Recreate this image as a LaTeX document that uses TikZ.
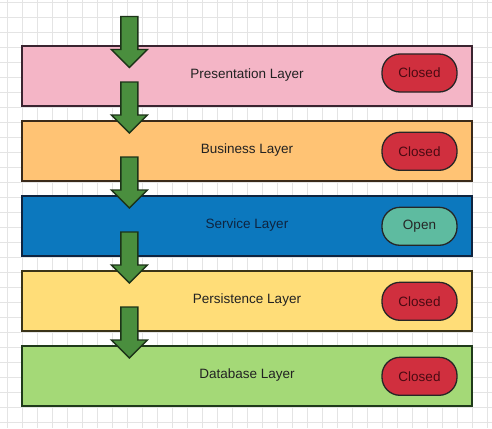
\documentclass[tikz,border=0pt]{standalone}
\usepackage{fontspec}
\setmainfont{Liberation Sans}
\definecolor{gridc}{HTML}{E4E4E4}
\definecolor{pinkf}{HTML}{F4B5C6}
\definecolor{pinkd}{HTML}{3A2430}
\definecolor{orangef}{HTML}{FFC374}
\definecolor{oranged}{HTML}{3A2A1A}
\definecolor{bluef}{HTML}{0C78BE}
\definecolor{blued}{HTML}{0E2440}
\definecolor{yellowf}{HTML}{FFDD78}
\definecolor{yellowd}{HTML}{3A3318}
\definecolor{greenf}{HTML}{A4D977}
\definecolor{greend}{HTML}{1F3A1A}
\definecolor{redf}{HTML}{D02F3E}
\definecolor{redt}{HTML}{4A0A12}
\definecolor{tealf}{HTML}{5EBBA0}
\definecolor{arrowf}{HTML}{4A8E3E}
\definecolor{arrowd}{HTML}{1C3318}
\definecolor{textc}{HTML}{222222}
\tikzset{
  layer/.style={draw=#1, line width=1.5pt, minimum width=450pt, minimum height=60pt,
    inner sep=0pt},
  layertext/.style={font=\fontsize{13.5}{15}\selectfont, text=textc},
  pill/.style={draw=black!85, line width=1.3pt, minimum width=75pt, minimum height=38pt,
    rounded corners=18pt, inner sep=0pt, font=\fontsize{13.5}{15}\selectfont},
  closedpill/.style={pill, fill=redf, text=redt},
  openpill/.style={pill, fill=tealf, text=black!85},
  blockarrow/.style={fill=arrowf, draw=arrowd, line width=1.4pt, line join=miter},
}
\begin{document}
\begin{tikzpicture}[x=1pt,y=-1pt]
\useasboundingbox (0,0) rectangle (492,428);
\fill[white] (0,0) rectangle (492,428);
\foreach \i in {0,...,32} \draw[gridc, line width=0.8pt] ({7.3+15*\i},0) -- ({7.3+15*\i},428);
\foreach \j in {0,...,28} \draw[gridc, line width=0.8pt] (0,{2.5+15*\j}) -- (492,{2.5+15*\j});

\node[layer=pinkd, fill=pinkf] (pres) at (247,76) {};
\node[layer=oranged, fill=orangef] (bus) at (247,151) {};
\node[layer=blued, fill=bluef] (serv) at (247,226) {};
\node[layer=yellowd, fill=yellowf] (pers) at (247,301) {};
\node[layer=greend, fill=greenf] (db) at (247,376) {};

\node[layertext] (prest) at (247,75) {Presentation Layer};
\node[layertext] (bust) at (247,150) {Business Layer};
\node[layertext, text=blued] (servt) at (247,225) {Service Layer};
\node[layertext] (perst) at (247,300) {Persistence Layer};
\node[layertext] (dbt) at (247,375) {Database Layer};

\node[closedpill] (p1) at (419.5,73) {Closed};
\node[closedpill] (p2) at (419.5,151.3) {Closed};
\node[openpill] (p3) at (419.5,226.3) {Open};
\node[closedpill] (p4) at (419.5,301.3) {Closed};
\node[closedpill] (p5) at (419.5,376.3) {Closed};

\foreach \t in {16.5,82,157,232,307} {
  \draw[blockarrow] (120.8,\t) -- (137.8,\t) -- (137.8,{\t+33}) -- (147.3,{\t+33})
    -- (129.3,{\t+51}) -- (111.3,{\t+33}) -- (120.8,{\t+33}) -- cycle;
}
\end{tikzpicture}
\end{document}
